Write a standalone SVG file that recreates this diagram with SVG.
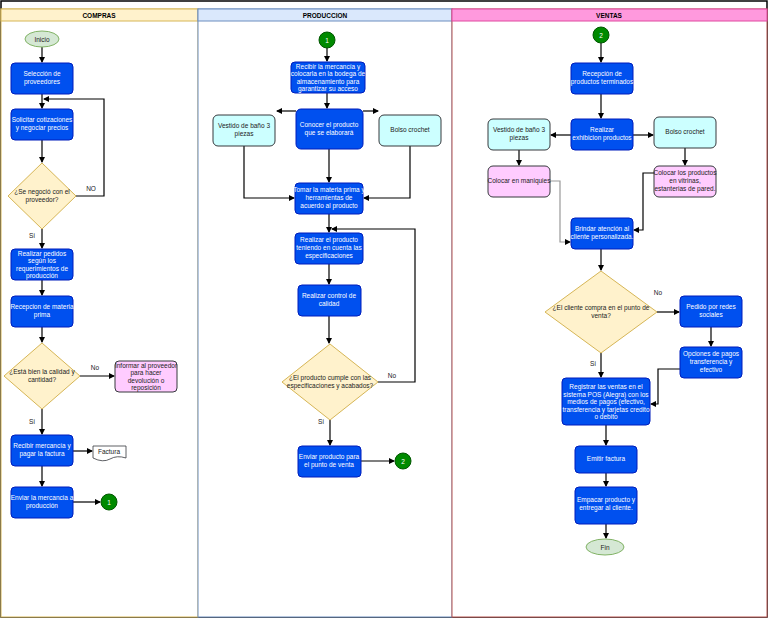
<svg xmlns="http://www.w3.org/2000/svg" width="768" height="618" viewBox="0 0 768 618">
<style>
text{font-family:"Liberation Sans",Arial,sans-serif;font-size:6.5px;text-anchor:middle}
.b{fill:#0050ef;stroke:#001dbc;stroke-width:1}
.b+text,.w{fill:#fff}
.c{fill:#ccffff;stroke:#36393d}
.p{fill:#ffccff;stroke:#36393d}
.d{fill:#fff2cc;stroke:#d6b656}
.g{fill:#008a00;stroke:#005700}
.e{fill:#d5e8d4;stroke:#82b366}
.k{fill:#222}
.h{font-weight:bold;font-size:6.5px}
#conn path{fill:none;stroke:#000;stroke-width:1.2;marker-end:url(#a)}
</style>
<defs><marker id="a" markerWidth="6" markerHeight="6" refX="5" refY="3" orient="auto" markerUnits="userSpaceOnUse"><path d="M0,0L6,3L0,6z" fill="#000"/></marker></defs>
<rect x="0" y="0" width="768" height="618" fill="#fff"/>
<g id="lanes">
<rect x="1" y="1" width="766" height="616" fill="none" stroke="#000" stroke-width="1.5"/>
<rect x="1" y="9" width="197" height="608" fill="#fff" stroke="#d6b656"/>
<rect x="1" y="9" width="197" height="12" fill="#fff2cc" stroke="#d6b656"/>
<text x="99" y="17.5" class="h">COMPRAS</text>
<rect x="198" y="9" width="254" height="608" fill="#fff" stroke="#6c8ebf"/>
<rect x="198" y="9" width="254" height="12" fill="#dae8fc" stroke="#6c8ebf"/>
<text x="325" y="17.5" class="h">PRODUCCION</text>
<rect x="452" y="9" width="315" height="608" fill="#fff" stroke="#b85450"/>
<rect x="452" y="9" width="315" height="12" fill="#ff99dd" stroke="#e0489f"/>
<text x="609" y="17.5" class="h">VENTAS</text>
</g>
<g id="conn">
<path d="M42,47V62"/><path d="M42,94V108"/><path d="M42,140V162"/>
<path d="M76,196H104V99H44"/>
<path d="M42,229V248"/><path d="M42,280V295"/><path d="M42,327V342"/>
<path d="M80,376H114"/><path d="M42,409V434"/><path d="M73,451H92"/>
<path d="M42,466V486"/><path d="M73,502H100"/>
<path d="M327,48V61"/><path d="M327,93V108"/><path d="M296,111H277"/><path d="M363,111H378"/>
<path d="M329,149V182"/><path d="M244,146V198H294"/><path d="M410,146V198H364"/>
<path d="M329,214V232"/><path d="M329,264V284"/><path d="M329,316V343"/>
<path d="M378,382H415V229H332"/>
<path d="M330,420V445"/><path d="M361,461H394"/>
<path d="M601,43V62"/><path d="M601,94V118"/><path d="M571,135H551"/><path d="M633,135H653"/>
<path d="M519,150V165"/><path d="M685,148V165"/>
<path d="M550,181H560V242H570" style="stroke:#999"/>
<path d="M654,173H643V230H634"/>
<path d="M601,249V270"/>
<path d="M657,312H679"/><path d="M711,327V346"/>
<path d="M680,369H658V404H651"/>
<path d="M601,353V377"/><path d="M606,425V445"/><path d="M606,473V486"/><path d="M606,524V538"/>
</g>
<g class="k">
<text x="91" y="191">NO</text><text x="32" y="238">Si</text>
<text x="95" y="370">No</text><text x="32" y="424">Si</text>
<text x="392" y="378">No</text><text x="321" y="424">Si</text>
<text x="658" y="295">No</text><text x="593" y="366">Si</text>
</g>
<g id="inicio"><ellipse cx="42" cy="39" rx="17" ry="8" class="e"/><text x="42" y="41.5" class="k">Inicio</text></g>
<g id="n1"><rect x="11" y="63" width="62" height="31" rx="4" class="b"/><text class="w" x="42" y="76">Selección de<tspan x="42" dy="8">proveedores</tspan></text></g>
<g id="n2"><rect x="11" y="109" width="62" height="31" rx="4" class="b"/><text class="w" x="42" y="122">Solicitar cotizaciones<tspan x="42" dy="8">y negociar precios</tspan></text></g>
<g id="q1"><path d="M42,163L76,196L42,229L8,196z" class="d"/><text class="k" x="42" y="194">¿Se negoció con el<tspan x="42" dy="8">proveedor?</tspan></text></g>
<g id="n3"><rect x="11" y="249" width="62" height="31" rx="4" class="b"/><text class="w" x="42" y="255.5">Realizar pedidos<tspan x="42" dy="7.5">según los</tspan><tspan x="42" dy="7.5">requerimientos de</tspan><tspan x="42" dy="7.5">producción</tspan></text></g>
<g id="n4"><rect x="11" y="296" width="62" height="31" rx="4" class="b"/><text class="w" x="42" y="309">Recepcion de materia<tspan x="42" dy="8">prima</tspan></text></g>
<g id="q2"><path d="M42,343L80,376L42,409L4,376z" class="d"/><text class="k" x="42" y="374">¿Está bien la calidad y<tspan x="42" dy="8">cantidad?</tspan></text></g>
<g id="n5"><rect x="115" y="361" width="62" height="31" rx="4" class="p"/><text class="k" x="146" y="367.5">Informar al proveedor<tspan x="146" dy="7.5">para hacer</tspan><tspan x="146" dy="7.5">devolución o</tspan><tspan x="146" dy="7.5">reposición</tspan></text></g>
<g id="n6"><rect x="11" y="435" width="62" height="31" rx="4" class="b"/><text class="w" x="42" y="448">Recibir mercancía y<tspan x="42" dy="8">pagar la factura</tspan></text></g>
<g id="fact"><path d="M93,446H126V458Q117,455 110,459T93,458z" fill="#fff" stroke="#36393d" stroke-width="0.8"/><text class="k" x="109" y="453.5">Factura</text></g>
<g id="n7"><rect x="11" y="487" width="62" height="31" rx="4" class="b"/><text class="w" x="42" y="500">Enviar la mercancia a<tspan x="42" dy="8">producción</tspan></text></g>
<g id="c1a"><circle cx="109" cy="502" r="8" class="g"/><text class="w" x="109" y="504.5">1</text></g>
<g id="c1b"><circle cx="327" cy="40" r="8" class="g"/><text class="w" x="327" y="42.5">1</text></g>
<g id="p1"><rect x="291" y="62" width="74" height="31" rx="4" class="b"/><text class="w" x="328" y="68.5">Recibir  la mercancía y<tspan x="328" dy="7.5">colocarla  en la bodega de</tspan><tspan x="328" dy="7.5">almacenamiento para</tspan><tspan x="328" dy="7.5">garantizar su acceso</tspan></text></g>
<g id="p2"><rect x="296" y="109" width="67" height="40" rx="5" class="b"/><text class="w" x="329" y="127">Conocer el producto<tspan x="329" dy="8">que se elaborará</tspan></text></g>
<g id="p3"><rect x="213" y="115" width="62" height="31" rx="5" class="c"/><text class="k" x="244" y="128">Vestido de baño 3<tspan x="244" dy="8">piezas</tspan></text></g>
<g id="p4"><rect x="379" y="115" width="62" height="31" rx="5" class="c"/><text class="k" x="410" y="132">Bolso crochet</text></g>
<g id="p5"><rect x="295" y="183" width="68" height="31" rx="4" class="b"/><text class="w" x="329" y="191.5">Tomar la materia prima y<tspan x="329" dy="8">herramientas de</tspan><tspan x="329" dy="8">acuerdo al producto</tspan></text></g>
<g id="p6"><rect x="295" y="233" width="68" height="31" rx="4" class="b"/><text class="w" x="329" y="241.5">Realizar el producto<tspan x="329" dy="8">teniendo en cuenta las</tspan><tspan x="329" dy="8">especificaciones</tspan></text></g>
<g id="p7"><rect x="298" y="285" width="63" height="31" rx="4" class="b"/><text class="w" x="329" y="298">Realizar control de<tspan x="329" dy="8">calidad</tspan></text></g>
<g id="p8"><path d="M330,344L378,382L330,420L282,382z" class="d"/><text class="k" x="330" y="380">¿El producto cumple con las<tspan x="330" dy="8">especificaciones y acabados?</tspan></text></g>
<g id="p9"><rect x="298" y="446" width="63" height="31" rx="4" class="b"/><text class="w" x="329" y="459">Enviar producto para<tspan x="329" dy="8">el punto de venta</tspan></text></g>
<g id="c2a"><circle cx="403" cy="461" r="8" class="g"/><text class="w" x="403" y="463.5">2</text></g>
<g id="c2b"><circle cx="601" cy="35" r="8" class="g"/><text class="w" x="601" y="37.5">2</text></g>
<g id="v1"><rect x="571" y="63" width="62" height="31" rx="4" class="b"/><text class="w" x="602" y="76">Recepción de<tspan x="602" dy="8">productos terminados</tspan></text></g>
<g id="v2"><rect x="571" y="119" width="62" height="31" rx="4" class="b"/><text class="w" x="602" y="132">Realizar<tspan x="602" dy="8">exhibicion productos</tspan></text></g>
<g id="v3"><rect x="488" y="119" width="62" height="31" rx="5" class="c"/><text class="k" x="519" y="132">Vestido de baño 3<tspan x="519" dy="8">piezas</tspan></text></g>
<g id="v4"><rect x="654" y="117" width="62" height="31" rx="5" class="c"/><text class="k" x="685" y="134">Bolso crochet</text></g>
<g id="v5"><rect x="488" y="166" width="62" height="31" rx="5" class="p"/><text class="k" x="519" y="183">Colocar en maniquies</text></g>
<g id="v6"><rect x="654" y="166" width="62" height="31" rx="5" class="p"/><text class="k" x="685" y="175">Colocar los productos<tspan x="685" dy="8">en vitrinas,</tspan><tspan x="685" dy="8">estanterias de pared.</tspan></text></g>
<g id="v7"><rect x="571" y="218" width="62" height="31" rx="4" class="b"/><text class="w" x="602" y="231">Brindar atención al<tspan x="602" dy="8">cliente personalizada.</tspan></text></g>
<g id="v8"><path d="M601,271L657,312L601,353L545,312z" class="d"/><text class="k" x="601" y="310">¿El cliente compra en el punto de<tspan x="601" dy="8">venta?</tspan></text></g>
<g id="v9"><rect x="680" y="296" width="62" height="31" rx="4" class="b"/><text class="w" x="711" y="309">Pedido por redes<tspan x="711" dy="8">sociales</tspan></text></g>
<g id="v10"><rect x="680" y="347" width="62" height="31" rx="4" class="b"/><text class="w" x="711" y="356">Opciones de pagos<tspan x="711" dy="8">transferencia y</tspan><tspan x="711" dy="8">efectivo</tspan></text></g>
<g id="v11"><rect x="562" y="378" width="88" height="47" rx="4" class="b"/><text class="w" x="606" y="389">Registrar las ventas en el<tspan x="606" dy="7.5">sistema POS (Alegra)  con los</tspan><tspan x="606" dy="7.5">medios de pagos (efectivo,</tspan><tspan x="606" dy="7.5">transferencia y tarjetas credito</tspan><tspan x="606" dy="7.5">o debito</tspan></text></g>
<g id="v12"><rect x="575" y="446" width="62" height="27" rx="4" class="b"/><text class="w" x="606" y="461">Emitir factura</text></g>
<g id="v13"><rect x="575" y="487" width="62" height="37" rx="4" class="b"/><text class="w" x="606" y="502">Empacar producto y<tspan x="606" dy="8">entregar al cliente.</tspan></text></g>
<g id="fin"><ellipse cx="605" cy="547" rx="19" ry="8" class="e"/><text class="k" x="605" y="549.5">Fin</text></g>
</svg>
